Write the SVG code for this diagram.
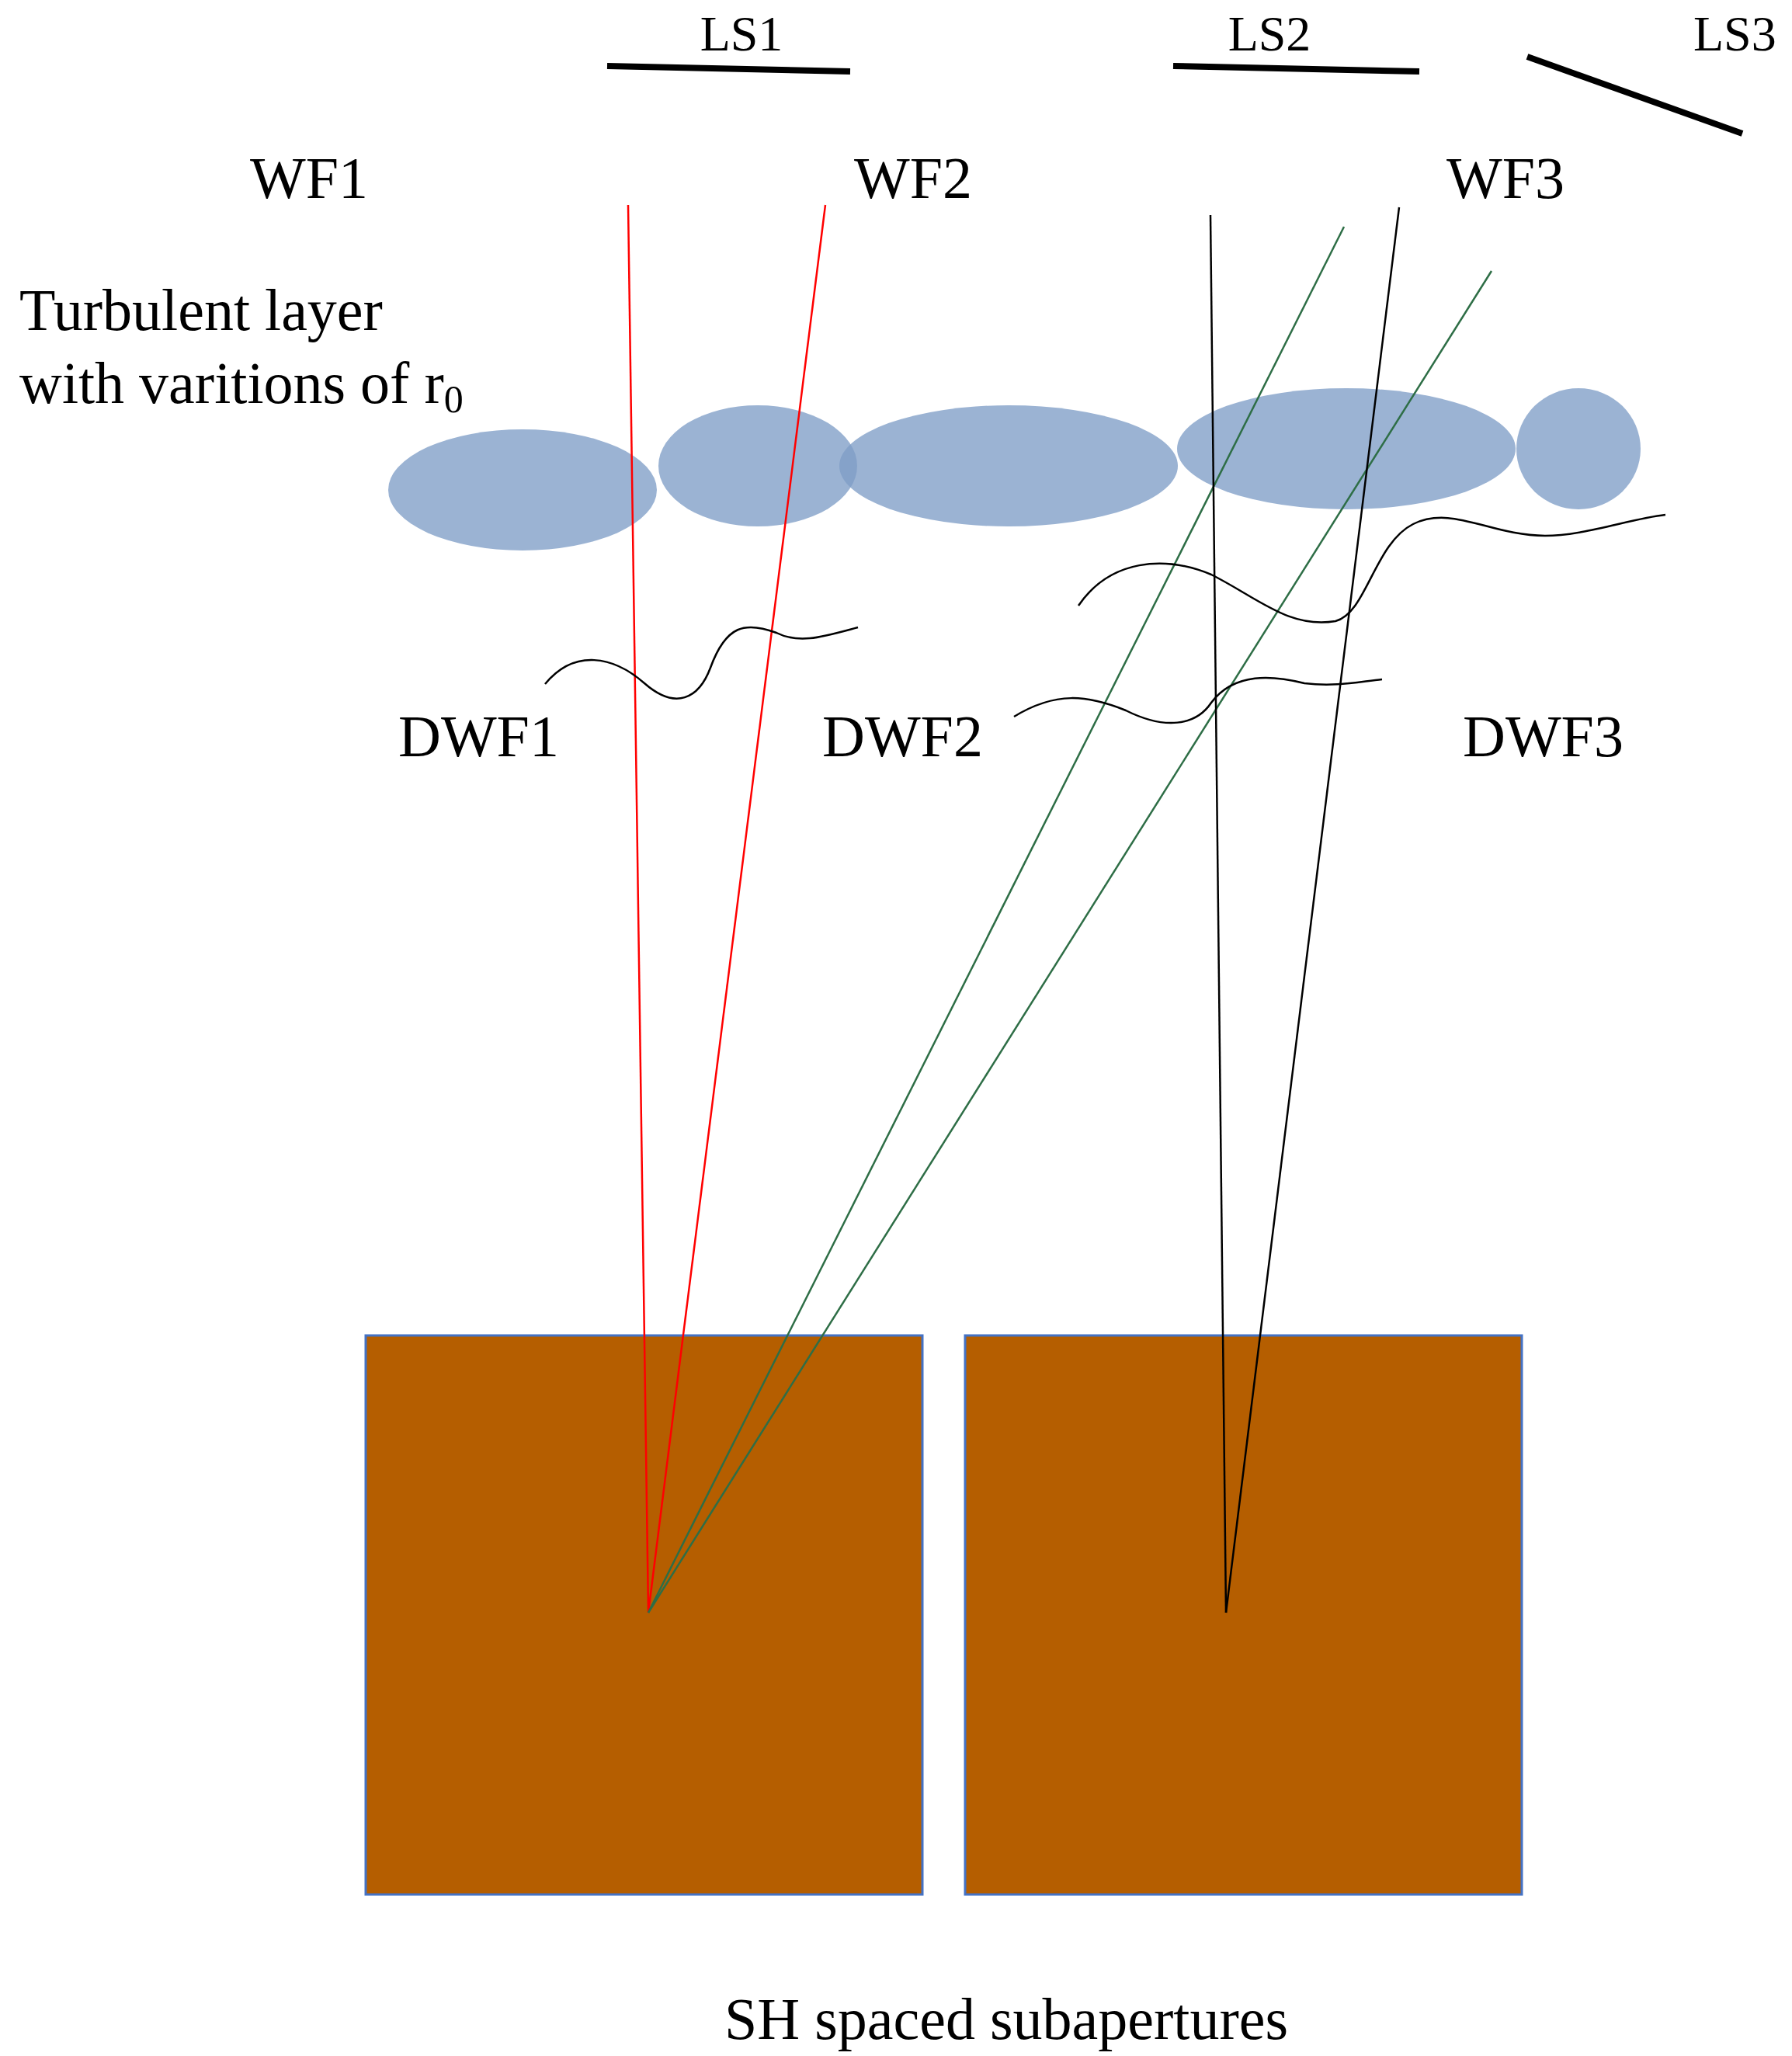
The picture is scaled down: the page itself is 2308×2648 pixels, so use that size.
<svg xmlns="http://www.w3.org/2000/svg" width="2308" height="2648" viewBox="0 0 2308 2648">
<style>
text{font-family:"Liberation Serif","DejaVu Serif",serif;fill:#000}
.big{font-size:76px}
.ls{font-size:64px}
.blob{fill:#7f9dc7;fill-opacity:0.78}
.ray{fill:none;stroke-width:2.5}
.wave{fill:none;stroke:#000;stroke-width:2.5}
.sh{fill:#b55e00;stroke:#4472c4;stroke-width:3}
</style>
<rect width="2308" height="2648" fill="#fff"/>
<g id="stars">
<line x1="782" y1="85" x2="1095" y2="92" stroke="#000" stroke-width="8"/>
<line x1="1511" y1="85" x2="1828" y2="92" stroke="#000" stroke-width="8"/>
<line x1="1967" y1="73" x2="2244" y2="172" stroke="#000" stroke-width="8"/>
<text class="ls" x="955" y="65" text-anchor="middle">LS1</text>
<text class="ls" x="1635" y="65" text-anchor="middle">LS2</text>
<text class="ls" x="2181" y="65">LS3</text>
</g>
<g id="wf-labels">
<text class="big" x="322" y="255">WF1</text>
<text class="big" x="1100" y="255">WF2</text>
<text class="big" x="1863" y="255">WF3</text>
<text class="big" x="25" y="425">Turbulent layer</text>
<text class="big" x="25" y="519">with varitions of r<tspan font-size="50" dy="12">0</tspan></text>
</g>
<g id="layer">
<ellipse class="blob" cx="673" cy="631" rx="173" ry="78"/>
<ellipse class="blob" cx="976" cy="600" rx="128" ry="78"/>
<ellipse class="blob" cx="1299" cy="600" rx="218" ry="78"/>
<ellipse class="blob" cx="1734" cy="578" rx="218" ry="78"/>
<ellipse class="blob" cx="2033" cy="578" rx="80" ry="78"/>
</g>
<g id="subapertures">
<rect class="sh" x="471" y="1720" width="717" height="720"/>
<rect class="sh" x="1243" y="1720" width="717" height="720"/>
<text class="big" x="1296" y="2626" text-anchor="middle">SH spaced subapertures</text>
</g>
<g id="connectors">
<line class="ray" x1="809" y1="264" x2="835" y2="2077" stroke="#ff0000"/>
<line class="ray" x1="1063" y1="264" x2="835" y2="2077" stroke="#ff0000"/>
<line class="ray" x1="1731" y1="292" x2="835" y2="2077" stroke="#2e6e46"/>
<line class="ray" x1="1921" y1="349" x2="835" y2="2077" stroke="#2e6e46"/>
<line class="ray" x1="1559" y1="277" x2="1579" y2="2077" stroke="#000"/>
<line class="ray" x1="1802" y1="267" x2="1579" y2="2077" stroke="#000"/>
</g>
<g id="distorted">
<path class="wave" d="M702,881 C740,835 790,845 830,880 C870,915 900,900 915,860 C935,805 960,800 1000,815 C1030,830 1060,820 1105,808"/>
<path class="wave" d="M1306,923 C1360,890 1400,895 1450,915 C1500,940 1540,935 1560,905 C1590,865 1640,870 1680,880 C1720,885 1750,878 1780,875"/>
<path class="wave" d="M1389,780 C1430,720 1500,715 1560,740 C1620,770 1660,810 1720,800 C1760,790 1770,700 1820,675 C1870,650 1920,690 1990,690 C2040,690 2100,668 2145,663"/>
<text class="big" x="513" y="974">DWF1</text>
<text class="big" x="1059" y="974">DWF2</text>
<text class="big" x="1884" y="974">DWF3</text>
</g>
</svg>
